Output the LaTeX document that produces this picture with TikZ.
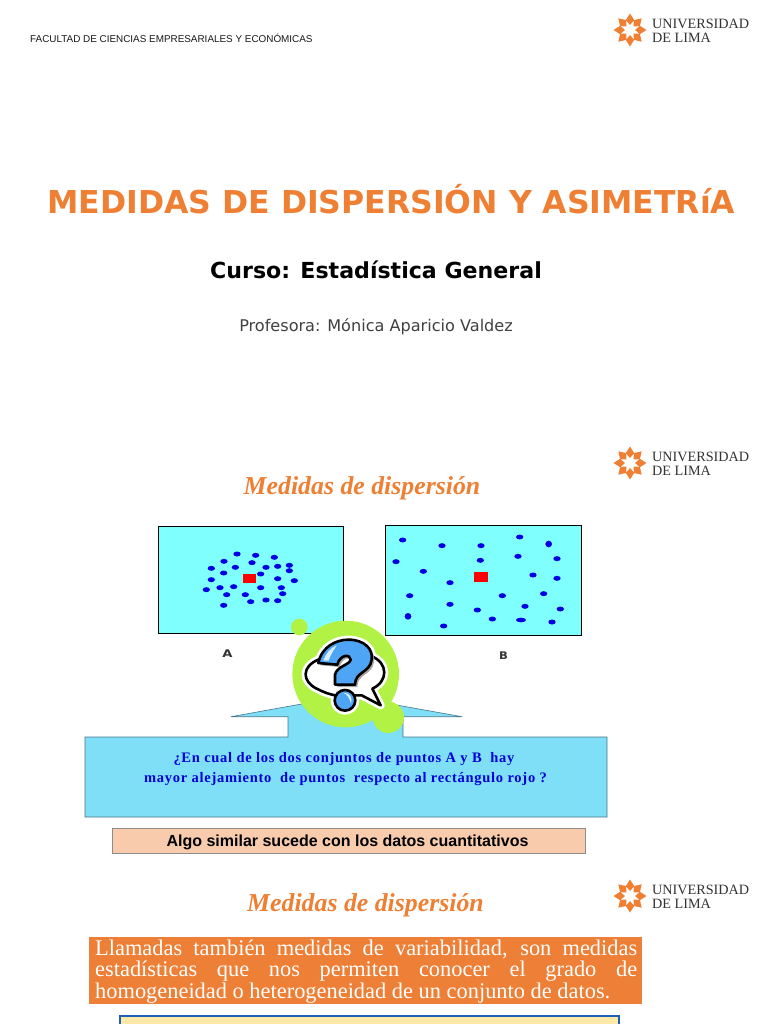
\documentclass[tikz,border=0pt]{standalone}
\usepackage{fontspec}
\setmainfont{Liberation Serif}
\setsansfont{Liberation Sans}
\newfontfamily\dejavu{DejaVu Sans}
\newfontfamily\spacedserif[LetterSpace=5]{Liberation Serif}
\newcommand{\fsz}[1]{\fontsize{#1}{#1}\selectfont}
\newcommand{\bubblepath}{(85,125) .. controls (35,145) and (35,190) .. (80,212) .. controls (100,222) and (115,228) .. (135,232) -- (215,232) -- (272,262) -- (247,212) .. controls (295,190) and (295,135) .. (245,115) .. controls (200,95) and (130,105) .. (85,125) -- cycle}
\newcommand{\qmarkpath}{(85,135) .. controls (95,85) and (140,65) .. (175,65) .. controls (225,65) and (250,95) .. (245,125) .. controls (240,165) and (195,160) .. (195,200) -- (135,200) -- (135,170) .. controls (140,145) and (180,140) .. (182,125) .. controls (182,108) and (150,108) .. (142,140) -- cycle}
\definecolor{ulorange}{HTML}{EE7F33}
\definecolor{panelcyan}{HTML}{80FFFF}
\definecolor{calloutblue}{HTML}{7EDFF7}
\definecolor{barpeach}{HTML}{F8CBAD}
\definecolor{ringgreen}{HTML}{B2F245}
\definecolor{qblue}{HTML}{4EA5F5}
\definecolor{dotblue}{HTML}{0000E6}
\definecolor{boxorange}{HTML}{EE7F36}
\definecolor{boxyellow}{HTML}{FFE9A9}
\definecolor{boxborder}{HTML}{1F5FB8}
\tikzset{
  panel/.style={draw=black,line width=0.9pt,fill=panelcyan},
  redmark/.style={fill=red,draw=none},
  title/.style={font=\dejavu\bfseries\fsz{31.5},text=ulorange,inner sep=0pt},
  heading/.style={font=\itshape\bfseries\fsz{25.8},text=ulorange,inner sep=0pt},
  logotext/.style={font=\fsz{14.2},text=black!80,inner sep=0pt,anchor=west},
  bluetext/.style={font=\spacedserif\bfseries\fsz{14.5},text=blue!85!black,inner sep=0pt},
  pletter/.style={font=\dejavu\bfseries\fsz{10.5},text=black!80,inner sep=0pt},
  qline/.style={draw=black,line width=2.6pt,line join=round},
  halo/.style={draw=white,fill=white,line width=8pt,line join=round},
  logo/.pic={
    \foreach \a in {0,45,...,315}{
      \fill[ulorange] (\a:5.2) -- (\a+24:10.6) -- (\a:16.5) -- (\a-24:10.6) -- cycle;
    }
    \node[logotext] (-a) at (22,-6.2) {UNIVERSIDAD};
    \node[logotext] (-b) at (22,7.6) {DE LIMA};
  }
}
\begin{document}
\begin{tikzpicture}[x=1pt,y=-1pt]
\useasboundingbox (0,0) rectangle (768,1024);
\fill[white] (0,0) rectangle (768,1024);

\node[font=\sffamily\fsz{9.9},text=black!90,inner sep=0pt,anchor=west] (faculty) at (30,38.5) {FACULTAD DE CIENCIAS EMPRESARIALES Y ECONÓMICAS};
\pic (logoa) at (630,30) {logo};
\pic (logob) at (630,463) {logo};
\pic (logoc) at (630,896) {logo};

\node[title] (maintitle) at (391.5,199.5) {MEDIDAS DE DISPERSIÓN Y ASIMETRíA};
\node[font=\dejavu\bfseries\fsz{22.1},inner sep=0pt] (course) at (376,270) {Curso: Estadística General};
\node[font=\dejavu\fsz{16.1},text=black!75,inner sep=0pt] (prof) at (376,327) {Profesora: Mónica Aparicio Valdez};

\node[heading] (heada) at (362,488) {Medidas de dispersión};

% panels
\draw[panel] (158.5,526.7) rectangle (343.3,633.5);
\draw[panel] (385,525.7) rectangle (581.7,635);
\begin{scope}[shift={(150,515)},xscale=1/3,yscale=1/3]
  \foreach \x/\y in {261/117,317/121,373/127,222/139,306/143,184/160,256/157,348/157,383/154,418/151,418/167,221/174,332/177,184/194,383/191,433/197,169/224,210/218,251/215,332/218,394/218,230/239,286/239,398/236,302/260,348/255,383/257,221/271}
    \fill[dotblue] (\x,\y) ellipse (11 and 7.5);
  \fill[redmark] (278,177) rectangle (317,203);
\end{scope}
\begin{scope}[shift={(375,515)},xscale=1/3,yscale=1/3]
  \foreach \x/\y in {83/75,201/92,318/92,434/66,63/140,316/136,429/124,546/131,145/169,225/203,474/180,546/190,104/242,382/242,506/236,225/268,307/285,450/274,556/282,206/333,352/312,531/321}
    \fill[dotblue] (\x,\y) ellipse (11 and 7.5);
  \fill[dotblue] (438,315) ellipse (15 and 7);
  \fill[dotblue] (521,87) circle (10);
  \fill[dotblue] (99,304) circle (10);
  \fill[redmark] (297,172) rectangle (339,200);
\end{scope}
\node[pletter,xscale=1.25] (la) at (227.5,653.5) {A};
\node[pletter,xscale=1.1] (lb) at (503.5,656) {B};

% callout
\draw[fill=calloutblue,draw=black!50!cyan,line width=0.6pt]
  (85,737) -- (288,737) -- (288,716.7) -- (231,716.7) -- (346,696) -- (462,716.7) -- (403,716.7) -- (403,737)
  -- (607,737) -- (607,817) -- (85,817) -- cycle;
\node[bluetext] (qa) at (344,759) {¿En cual de los dos conjuntos de puntos A y B\ \ hay};
\node[bluetext] (qb) at (345.5,779.5) {mayor alejamiento\ \ de puntos\ \ respecto al rectángulo rojo ?};

% question icon
\begin{scope}[shift={(290,618)},xscale=1/3,yscale=1/3]
  \fill[ringgreen] (167,168) circle (160);
  \fill[ringgreen] (28,27) circle (25);
  \fill[ringgreen] (295,298) circle (47);
  \draw[halo] \bubblepath;
  \draw[halo] \qmarkpath;
  \draw[halo] (165,247) circle (31);
  \draw[qline,fill=white] \bubblepath;
  \fill[black!35,shift={(7,7)}] \qmarkpath;
  \draw[qline,fill=qblue] \qmarkpath;
  \fill[white,opacity=.8] (100,128) .. controls (108,105) and (122,90) .. (140,82) .. controls (130,98) and (120,112) .. (116,128) -- cycle;
  \draw[qline,fill=qblue] (165,247) circle (31);
  \fill[white,opacity=.85] (160,224) .. controls (180,224) and (188,240) .. (183,258) .. controls (180,242) and (173,230) .. (160,224) -- cycle;
\end{scope}

% peach bar
\draw[fill=barpeach,draw=black!45,line width=0.6pt] (112,828) rectangle (585,853);
\node[font=\sffamily\bfseries\fsz{16},inner sep=0pt] (bartext) at (347.5,842.5) {Algo similar sucede con los datos cuantitativos};

\node[heading] (headb) at (365.5,905) {Medidas de dispersión};

% definition box
\fill[boxorange] (89,936.5) rectangle (642,1004);
\node[text=white,anchor=north west,inner sep=0pt,text width=542pt,align=justify] (defbox) at (95,939.5) {\fontsize{22.4}{21.6}\selectfont\leavevmode
Llamadas también medidas de variabilidad, son medidas\linebreak
estadísticas que nos permiten conocer el grado de\linebreak
homogeneidad o heterogeneidad de un conjunto de datos.\par};

% clipped lower box
\begin{scope}
  \clip (0,0) rectangle (768,1024);
  \draw[fill=boxyellow,draw=boxborder,line width=2.4pt] (120,1016) rectangle (619,1060);
\end{scope}
\end{tikzpicture}
\end{document}
